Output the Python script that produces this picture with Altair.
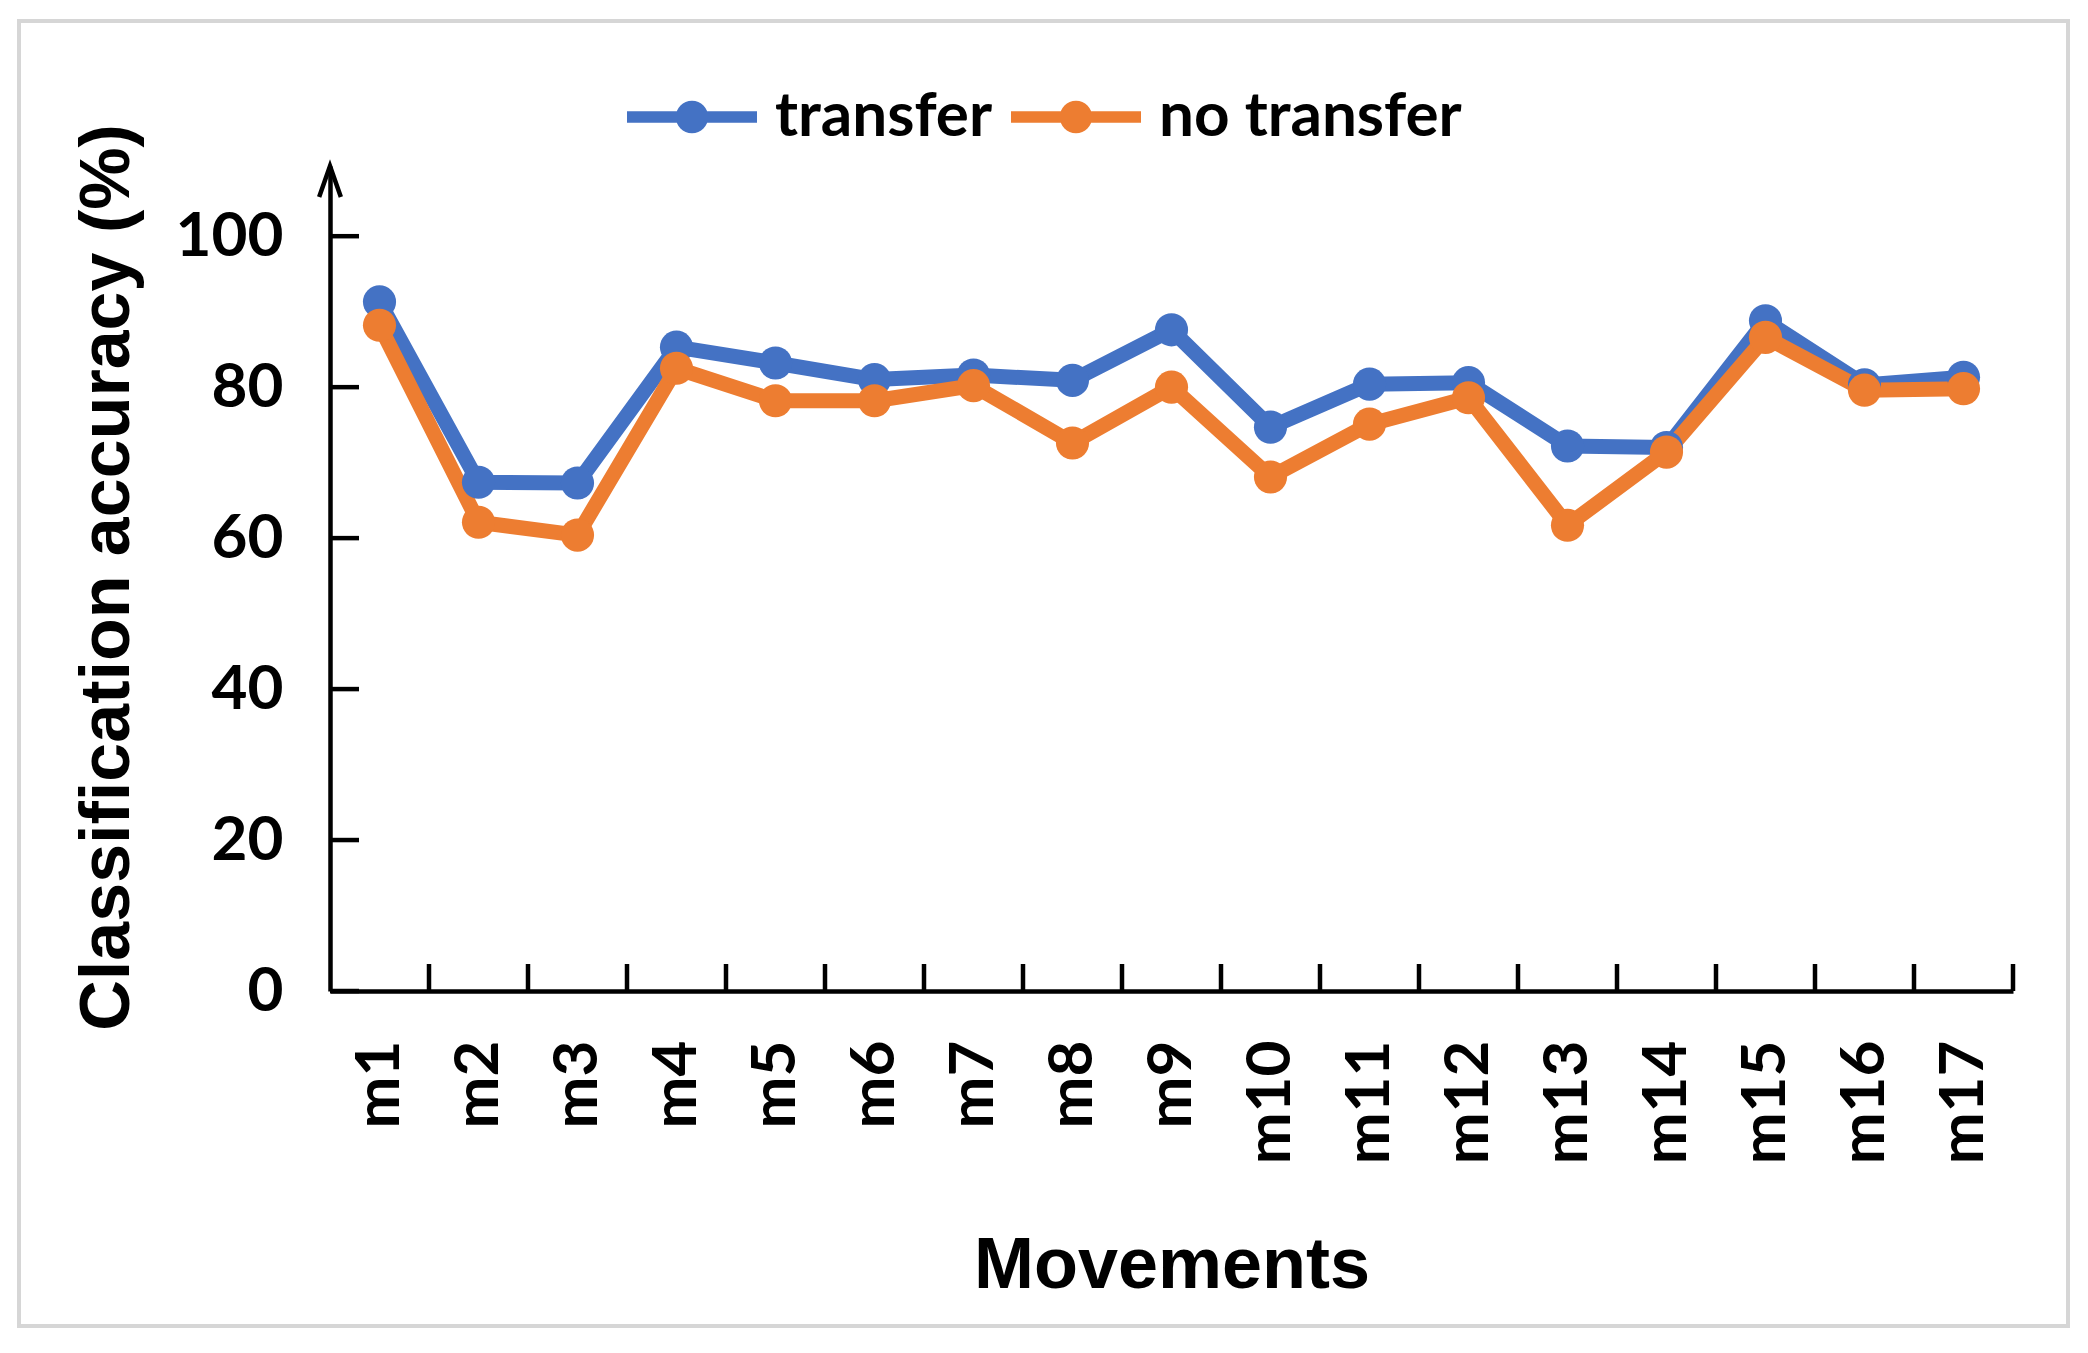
import altair as alt
import pandas as pd

# ---- data ----
movements = ["m1", "m2", "m3", "m4", "m5", "m6", "m7", "m8", "m9",
             "m10", "m11", "m12", "m13", "m14", "m15", "m16", "m17"]
transfer = [91.3, 67.4, 67.3, 85.3, 83.2, 81.0, 81.6, 80.9, 87.6,
            74.7, 80.4, 80.6, 72.2, 72.0, 88.8, 80.3, 81.3]
no_transfer = [88.2, 62.1, 60.4, 82.5, 78.2, 78.2, 80.2, 72.6, 80.0,
               68.1, 75.1, 78.6, 61.7, 71.4, 86.6, 79.6, 79.8]
series_names = ["transfer", "no transfer"]
series_colors = ["#4472C4", "#ED7D31"]
y_ticks = [0, 20, 40, 60, 80, 100]
y_max = 109.3

rows = []
for name, vals in zip(series_names, [transfer, no_transfer]):
    for m, v in zip(movements, vals):
        rows.append({"movement": m, "series": name, "value": v})
df = pd.DataFrame(rows)

W, H = 1683, 825
LABEL_FONT = "Lato"
TITLE_FONT = "Liberation Sans"

xscale = alt.Scale(type="band", domain=movements, paddingInner=0, paddingOuter=0)
yscale = alt.Scale(domain=[0, y_max], nice=False, zero=True)
cscale = alt.Scale(domain=series_names, range=series_colors)

x_axis = alt.Axis(
    title="Movements", ticks=False, grid=False,
    domainColor="black", domainWidth=4.5,
    labelAngle=270, labelFont=LABEL_FONT, labelFontSize=62, labelFontWeight="bold",
    labelColor="black", labelPadding=49,
    titleFont=TITLE_FONT, titleFontSize=72, titleFontWeight="bold", titleColor="black",
    titleX=W / 2, titleY=296, titleAlign="center", titleBaseline="alphabetic",
)
y_axis = alt.Axis(
    title="Classification accuracy (%)", values=y_ticks, ticks=False, grid=False,
    domainColor="black", domainWidth=4.5,
    labelFont=LABEL_FONT, labelFontSize=62, labelFontWeight="bold",
    labelColor="black", labelPadding=47,
    titleFont=TITLE_FONT, titleFontSize=70, titleFontWeight="bold", titleColor="black",
    titleAngle=270, titleX=-223, titleY=411, titleAlign="center", titleBaseline="middle",
)

legend_symbol = ("M-1,-0.09 L1,-0.09 L1,0.09 L-1,0.09 Z "
                 "M0.25,0 A0.25,0.25 0 1,1 -0.25,0 A0.25,0.25 0 1,1 0.25,0 Z")
legend = alt.Legend(
    title=None, orient="none", direction="horizontal",
    legendX=297, legendY=-114, padding=0,
    symbolType=legend_symbol, symbolSize=16900, symbolStrokeWidth=0,
    labelFont=LABEL_FONT, labelFontSize=62, labelFontWeight="bold",
    labelColor="black", labelOffset=18, columnPadding=18, labelBaseline="middle",
    labelLimit=600,
)

base = alt.Chart(df)

# one line layer per series (constant colour, so no extra legend is created)
line_layers = []
for i, (name, col) in enumerate(zip(series_names, series_colors)):
    xenc = alt.X("movement:N", scale=xscale, bandPosition=0.5)
    yenc = alt.Y("value:Q", scale=yscale)
    if i == 0:
        xenc = alt.X("movement:N", scale=xscale, axis=x_axis, bandPosition=0.5)
        yenc = alt.Y("value:Q", scale=yscale, axis=y_axis)
    line_layers.append(
        base.transform_filter(alt.datum.series == name)
        .mark_line(color=col, strokeWidth=15, strokeJoin="round", strokeCap="round")
        .encode(x=xenc, y=yenc)
    )

points = base.mark_point(filled=True, size=1100, opacity=1).encode(
    x=alt.X("movement:N", scale=xscale, bandPosition=0.5),
    y=alt.Y("value:Q", scale=yscale),
    color=alt.Color("series:N", scale=cscale, legend=legend),
)

# inward tick marks
xticks = alt.Chart(pd.DataFrame({"movement": movements})).mark_rule(
    color="black", strokeWidth=4.5
).encode(
    x=alt.X("movement:N", scale=xscale, bandPosition=1),
    y=alt.value(H), y2=alt.value(H - 27),
)
yticks = alt.Chart(pd.DataFrame({"value": y_ticks})).mark_rule(
    color="black", strokeWidth=4.5
).encode(
    y=alt.Y("value:Q", scale=yscale),
    x=alt.value(0), x2=alt.value(29),
)

one = pd.DataFrame({"k": [0]})
arrow = alt.Chart(one).mark_point(
    shape="M-0.7,1 L0,-1 L0.7,1", size=961, filled=False,
    stroke="black", strokeWidth=4.5, opacity=1,
).encode(x=alt.value(0), y=alt.value(15.5))

border = alt.Chart(one).mark_rect(
    filled=False, stroke="#d6d6d6", strokeWidth=4
).encode(
    x=alt.value(-311), x2=alt.value(1738), y=alt.value(-145), y2=alt.value(1160)
)

chart = alt.layer(border, xticks, yticks, *line_layers, points, arrow).properties(
    width=W, height=H,
    autosize=alt.AutoSizeParams(type="none"),
    padding={"left": 322, "top": 158, "right": 60, "bottom": 340},
    background="white",
).configure_view(stroke=None)

chart.save("out.html", embed_options={"renderer": "svg", "actions": False})
